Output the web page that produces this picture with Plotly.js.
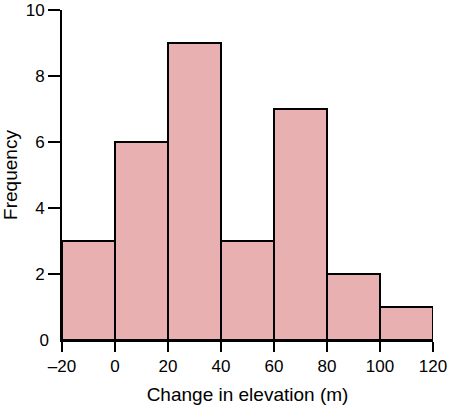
<!DOCTYPE html>
<html>
<head>
<meta charset="utf-8">
<script src="https://cdn.plot.ly/plotly-3.0.1.min.js"></script>
<style>
  html, body { margin: 0; padding: 0; background: #fff; }
  #chart { width: 450px; height: 405px; }
</style>
</head>
<body>
<div id="chart"></div>
<script>
// histogram bins (left edges, width 20 m) and their counts
var binStarts = [-20, 0, 20, 40, 60, 80, 100];
var binWidth = 20;
var counts = [3, 6, 9, 3, 7, 2, 1];

var xTicks = [-20, 0, 20, 40, 60, 80, 100, 120];
var xTickText = ['\u201320', '0', '20', '40', '60', '80', '100', '120'];
var yTicks = [2, 4, 6, 8, 10];   // 0 has a label but no tick mark

var trace = {
    type: 'bar',
    x: binStarts,
    y: counts,
    width: binWidth,
    offset: 0,
    marker: {
        color: '#e8b0b0',
        line: {color: '#000', width: 2}
    },
    hoverinfo: 'y'
};

var tickFont = {family: 'Liberation Sans, Arial, sans-serif', size: 17, color: '#000'};
var titleFont = {family: 'Liberation Sans, Arial, sans-serif', size: 19, color: '#000'};

var layout = {
    width: 450,
    height: 405,
    margin: {l: 62, r: 17, t: 10, b: 65},
    paper_bgcolor: '#fff',
    plot_bgcolor: '#fff',
    showlegend: false,
    bargap: 0,
    font: tickFont,
    xaxis: {
        range: [-20, 120],
        tickvals: xTicks,
        ticktext: xTickText,
        ticks: 'outside',
        ticklen: 10,
        tickwidth: 2,
        tickcolor: '#000',
        showline: true,
        linecolor: '#000',
        linewidth: 2,
        showgrid: false,
        zeroline: false,
        tickfont: tickFont,
        ticklabeloverflow: 'allow',
        title: {text: 'Change in elevation (m)', font: titleFont, standoff: 16}
    },
    yaxis: {
        range: [0, 10.0001],
        tickvals: yTicks,
        ticks: 'outside',
        ticklen: 12,
        tickwidth: 2,
        tickcolor: '#000',
        showline: true,
        linecolor: '#000',
        linewidth: 2,
        showgrid: false,
        zeroline: false,
        tickfont: tickFont,
        ticklabeloverflow: 'allow',
        title: {text: 'Frequency', font: titleFont, standoff: 22}
    },
    yaxis2: {
        overlaying: 'y',
        side: 'left',
        range: [0, 10.0001],
        tickvals: [0],
        ticks: '',
        showline: false,
        showgrid: false,
        zeroline: false,
        tickfont: tickFont,
        ticklabelstandoff: 12
    }
};

var zeroLabel = {
    type: 'scatter',
    x: [binStarts[0]],
    y: [0],
    yaxis: 'y2',
    mode: 'none',
    hoverinfo: 'skip'
};

Plotly.newPlot('chart', [trace, zeroLabel], layout, {displayModeBar: false, staticPlot: true});
</script>
</body>
</html>
